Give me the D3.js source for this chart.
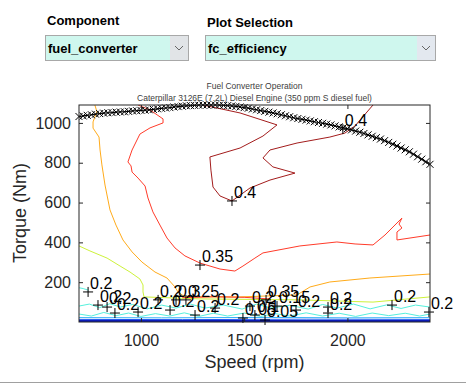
<!DOCTYPE html>
<html>
<head>
<meta charset="utf-8">
<script src="https://cdn.jsdelivr.net/npm/d3@7"></script>
<style>
  body { margin: 0; background: #fff; }
  svg { display: block; font-family: "Liberation Sans", Arial, Helvetica, sans-serif; }
</style>
</head>
<body>
<svg id="svg" width="466" height="383"></svg>
<script>
// axis setup
const speedDomain = [700, 2400];
const torqueDomain = [0, 1090];
const speedTicks = [1000, 1500, 2000];
const torqueTicks = [200, 400, 600, 800, 1000];

const titleText = "Fuel Converter Operation";
const subtitleText = "Caterpillar 3126E (7.2L) Diesel Engine (350 ppm S diesel fuel)";

// max torque curve [rpm, Nm]
const maxTorque = [
  [700, 1032], [720, 1035], [740, 1038], [760, 1041], [780, 1044], [800, 1047],
  [820, 1049], [840, 1051], [860, 1052], [880, 1054], [900, 1055], [920, 1056],
  [940, 1058], [960, 1060], [980, 1061], [1000, 1063], [1020, 1064], [1040, 1066],
  [1060, 1068], [1080, 1071], [1100, 1073], [1120, 1075], [1140, 1077], [1160, 1080],
  [1180, 1082], [1200, 1084], [1220, 1086], [1240, 1087], [1260, 1088], [1280, 1089],
  [1300, 1090], [1320, 1090], [1340, 1090], [1360, 1090], [1380, 1089], [1400, 1088],
  [1420, 1087], [1440, 1085], [1460, 1083], [1480, 1080], [1500, 1077], [1520, 1074],
  [1540, 1070], [1560, 1066], [1580, 1062], [1600, 1058], [1620, 1054], [1640, 1050],
  [1660, 1046], [1680, 1041], [1700, 1036], [1720, 1031], [1740, 1026], [1760, 1022],
  [1780, 1018], [1800, 1014], [1820, 1010], [1840, 1006], [1860, 1002], [1880, 998],
  [1900, 994], [1920, 990], [1940, 985], [1960, 980], [1980, 976], [2000, 971],
  [2020, 965], [2040, 959], [2060, 953], [2080, 947], [2100, 940], [2120, 933],
  [2140, 926], [2160, 919], [2180, 911], [2200, 902], [2220, 893], [2240, 884],
  [2260, 874], [2280, 865], [2300, 855], [2320, 843], [2340, 830], [2360, 818],
  [2380, 805], [2400, 792]
];

// efficiency contour lines [rpm, Nm]
const eff40 = [
  [1300, 1090], [1480, 1050], [1659, 990], [1591, 934], [1480, 874], [1334, 829],
  [1339, 763], [1349, 678], [1383, 633], [1441, 608], [1528, 673], [1625, 713],
  [1746, 748], [1639, 779], [1591, 824], [1625, 864], [1756, 899], [1915, 929],
  [1988, 949], [2037, 985], [2124, 1090]
];
const eff35 = [
  [986, 1090], [1044, 1065], [1107, 1020], [1107, 1000], [1044, 975], [995, 944],
  [957, 864], [937, 804], [952, 784], [957, 753], [986, 723], [1020, 683],
  [1034, 623], [1058, 553], [1092, 487], [1126, 422], [1165, 372], [1213, 332],
  [1286, 296], [1383, 266], [1455, 256], [1494, 281], [1552, 321], [1591, 347],
  [1770, 382], [1949, 402], [2037, 392], [2124, 387], [2182, 437], [2264, 522],
  [2250, 492], [2264, 472], [2240, 452], [2240, 412], [2400, 437]
];
const eff35low = [[1200, 122], [1350, 127], [1500, 124], [1620, 116]];
const eff30 = [
  [777, 1090], [787, 1055], [777, 1030], [768, 1005], [768, 974], [797, 929],
  [802, 864], [811, 789], [826, 688], [850, 563], [879, 487], [913, 412],
  [957, 352], [1005, 301], [1068, 251], [1126, 221], [1165, 176], [1179, 151],
  [1213, 126], [1480, 126], [1756, 136], [1819, 176], [1915, 201], [2109, 221],
  [2400, 241]
];
const eff25 = [
  [700, 382], [753, 357], [836, 321], [899, 281], [947, 251], [995, 216],
  [1010, 186], [1010, 151], [1015, 126], [1286, 116], [1770, 111], [2124, 100],
  [2400, 126]
];
const eff20left = [[700, 172], [720, 168], [745, 160]];
const eff20upper = [
  [700, 80], [750, 90], [800, 72], [850, 92], [900, 75], [960, 88], [1030, 66],
  [1100, 85], [1170, 70], [1240, 90], [1310, 70], [1400, 85], [1490, 65],
  [1560, 90], [1630, 70], [1720, 84], [1810, 65], [1880, 88], [1950, 70],
  [2030, 90], [2110, 66], [2190, 86], [2260, 68], [2330, 85], [2400, 75]
];
const eff20lower = [
  [700, 40], [760, 30], [820, 48], [880, 32], [940, 45], [1000, 28], [1070, 42],
  [1140, 30], [1210, 46], [1280, 28], [1350, 44], [1420, 30], [1500, 45],
  [1580, 28], [1650, 42], [1720, 30], [1800, 46], [1880, 30], [1960, 44],
  [2040, 28], [2120, 45], [2200, 32], [2280, 44], [2350, 30], [2400, 40]
];
const eff15 = [[700, 22], [1100, 21], [1600, 23], [2000, 21], [2400, 22]];
const eff10 = [[700, 13], [1200, 12], [1800, 14], [2400, 13]];
const eff05 = [[700, 5], [1500, 5], [2400, 5]];

// contour labels [rpm, Nm, text]
const contourLabels = [
  [744, 151, "0.2"], [792, 85, "0.2"], [836, 75, "0.2"], [874, 45, "0.2"],
  [986, 50, "0.2"], [1083, 111, "0.2"], [1170, 111, "0.3"], [1218, 111, "0.25"],
  [1141, 60, "0.2"], [1262, 35, "0.2"], [1359, 70, "0.2"], [1528, 80, "0.2"],
  [1494, 20, "0.05"], [1552, 35, "0.1"], [1601, 10, "0.05"], [1659, 80, "0.15"],
  [1606, 111, "0.35"], [1751, 60, "0.2"], [1906, 75, "0.2"], [1906, 45, "0.2"],
  [2216, 85, "0.2"], [2395, 50, "0.2"], [1286, 286, "0.35"], [1441, 608, "0.4"],
  [1978, 969, "0.4"]
];

const contours = [
  { pts: eff05, color: "#0c1bb8", width: 2 },
  { pts: eff10, color: "#2656f0", width: 1 },
  { pts: eff15, color: "#33b0f8", width: 1 },
  { pts: eff20lower, color: "#55f0dc", width: 1 },
  { pts: eff20upper, color: "#55f0dc", width: 1 },
  { pts: eff20left, color: "#55f0dc", width: 1 },
  { pts: eff25, color: "#cdf23a", width: 1 },
  { pts: eff30, color: "#ffab1a", width: 1 },
  { pts: eff35low, color: "#ff3b2a", width: 1 },
  { pts: eff35, color: "#ff3b2a", width: 1 },
  { pts: eff40, color: "#a31c1c", width: 1 }
];

const svg = d3.select("#svg");
const font = "'Liberation Sans', Arial, Helvetica, sans-serif";
const ink = "#262626";

// ---- dropdown header ----
function dropdown(x, w, label, labelY, value, arrowFill) {
  svg.append("text")
    .attr("x", x + 2).attr("y", labelY)
    .style("font-size", "13px").style("font-weight", "bold")
    .attr("fill", "#000").text(label);
  svg.append("rect")
    .attr("x", x + 0.5).attr("y", 35.5).attr("width", w).attr("height", 25)
    .attr("fill", "#cff7ee").attr("stroke", "#a8a8a8");
  svg.append("rect")
    .attr("x", x + w - 18).attr("y", 36).attr("width", 18).attr("height", 24)
    .attr("fill", arrowFill);
  var cx = x + w - 9;
  svg.append("path")
    .attr("d", `M${cx - 4},46 L${cx},50 L${cx + 4},46`)
    .attr("fill", "none").attr("stroke", "#666").attr("stroke-width", 1);
  svg.append("text")
    .attr("x", x + 3).attr("y", 53)
    .style("font-size", "13px").style("font-weight", "bold")
    .attr("fill", "#000").text(value);
}
dropdown(45, 143, "Component", 25, "fuel_converter", "#e1e4e7");
dropdown(205, 230, "Plot Selection", 27, "fc_efficiency", "#e3e8ef");

svg.append("line")
  .attr("x1", 0).attr("x2", 466).attr("y1", 382.5).attr("y2", 382.5)
  .attr("stroke", "#a0a0a0");

// ---- plot ----
const plotLeft = 79, plotRight = 430, plotTop = 105, plotBottom = 322;

const xScale = d3.scaleLinear().domain(speedDomain).range([plotLeft, plotRight]);
const yScale = d3.scaleLinear().domain(torqueDomain).range([plotBottom, plotTop]);

svg.append("defs").append("clipPath").attr("id", "plotClip")
  .append("rect")
  .attr("x", plotLeft).attr("y", plotTop)
  .attr("width", plotRight - plotLeft).attr("height", plotBottom - plotTop);

const line = d3.line()
  .x(d => xScale(d[0]))
  .y(d => yScale(d[1]));

const plot = svg.append("g").attr("clip-path", "url(#plotClip)");

plot.selectAll(".contour")
  .data(contours)
  .enter()
  .append("path")
  .attr("class", "contour")
  .attr("d", d => line(d.pts))
  .attr("fill", "none")
  .attr("stroke", d => d.color)
  .attr("stroke-width", d => d.width);

// max torque line with x markers
svg.append("path")
  .attr("d", line(maxTorque))
  .attr("fill", "none")
  .attr("stroke", "#000")
  .attr("stroke-width", 1.2);

svg.append("g")
  .selectAll("path")
  .data(maxTorque)
  .enter()
  .append("path")
  .attr("transform", d => `translate(${xScale(d[0])},${yScale(d[1])})`)
  .attr("d", "M-3.5,-3.5L3.5,3.5M-3.5,3.5L3.5,-3.5")
  .attr("stroke", "#000")
  .attr("stroke-width", 1);

// contour labels
var lab = svg.append("g");
lab.selectAll("path")
  .data(contourLabels)
  .enter()
  .append("path")
  .attr("transform", d => `translate(${xScale(d[0])},${yScale(d[1])})`)
  .attr("d", "M-5,0H5M0,-5V5")
  .attr("stroke", "#000")
  .attr("stroke-width", 1);
lab.selectAll("text")
  .data(contourLabels)
  .enter()
  .append("text")
  .attr("x", d => xScale(d[0]) + 2)
  .attr("y", d => yScale(d[1]) - 3)
  .style("font-size", "16px")
  .attr("fill", "#000")
  .text(d => d[2]);

// axes with inward ticks on all sides
function styleAxis(g) {
  g.select(".domain").remove();
  g.selectAll(".tick line").attr("stroke", ink);
  g.selectAll(".tick text")
    .attr("fill", ink)
    .style("font-size", "16px")
    .style("font-family", font);
}

svg.append("g")
  .attr("transform", `translate(0, ${plotBottom})`)
  .call(d3.axisBottom(xScale).tickValues(speedTicks).tickFormat(d3.format("d"))
    .tickSizeInner(-4).tickSizeOuter(0).tickPadding(13))
  .call(styleAxis);
svg.append("g")
  .attr("transform", `translate(0, ${plotTop})`)
  .call(d3.axisTop(xScale).tickValues(speedTicks).tickSizeInner(-4).tickSizeOuter(0).tickFormat(""))
  .call(styleAxis);
svg.append("g")
  .attr("transform", `translate(${plotLeft}, 0)`)
  .call(d3.axisLeft(yScale).tickValues(torqueTicks).tickFormat(d3.format("d"))
    .tickSizeInner(-4).tickSizeOuter(0).tickPadding(8))
  .call(styleAxis);
svg.append("g")
  .attr("transform", `translate(${plotRight}, 0)`)
  .call(d3.axisRight(yScale).tickValues(torqueTicks).tickSizeInner(-4).tickSizeOuter(0).tickFormat(""))
  .call(styleAxis);

svg.append("rect")
  .attr("x", plotLeft).attr("y", plotTop)
  .attr("width", plotRight - plotLeft).attr("height", plotBottom - plotTop)
  .attr("fill", "none").attr("stroke", ink).attr("stroke-width", 1);

// titles
svg.append("text")
  .attr("x", (plotLeft + plotRight) / 2).attr("y", 89)
  .attr("text-anchor", "middle")
  .style("font-size", "8.5px").attr("fill", "#404040")
  .text(titleText);
svg.append("text")
  .attr("x", (plotLeft + plotRight) / 2).attr("y", 101)
  .attr("text-anchor", "middle")
  .style("font-size", "8.5px").attr("fill", "#404040")
  .text(subtitleText);

svg.append("text")
  .attr("x", (plotLeft + plotRight) / 2).attr("y", 368)
  .attr("text-anchor", "middle")
  .style("font-size", "18px").attr("fill", ink)
  .text("Speed (rpm)");
svg.append("text")
  .attr("transform", "rotate(-90)")
  .attr("x", -213).attr("y", 26)
  .attr("text-anchor", "middle")
  .style("font-size", "18px").attr("fill", ink)
  .text("Torque (Nm)");
</script>
</body>
</html>
